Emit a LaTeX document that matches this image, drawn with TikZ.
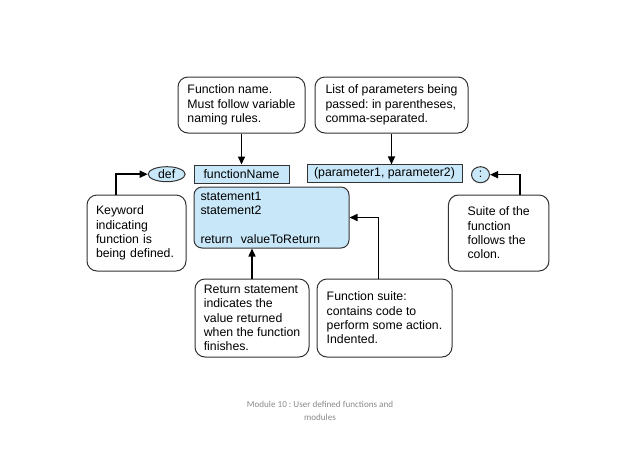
\documentclass[tikz,border=0pt]{standalone}
\usepackage{fontspec}
\setmainfont{Liberation Sans}
\newfontfamily\capfont{Carlito}
\usetikzlibrary{shapes.geometric,arrows.meta}
\frenchspacing
\definecolor{codeblue}{HTML}{C8E7F8}
\definecolor{edgegrey}{HTML}{333333}
\definecolor{capgrey}{HTML}{8A8A8A}
\tikzset{
  note/.style={draw=edgegrey, line width=1pt, rounded corners=10pt, fill=white,
    align=left, inner sep=0pt, font=\fontsize{12.3}{14.3}\selectfont},
  codebox/.style={draw=edgegrey, line width=1pt, fill=codeblue, inner sep=0pt,
    font=\fontsize{12.3}{14.3}\selectfont},
  codeoval/.style={codebox, ellipse},
  pointer/.style={line width=1.5pt, -{Triangle[length=8pt,width=7pt]}},
}
\begin{document}
\begin{tikzpicture}[x=1pt,y=-1pt]
\useasboundingbox (0,0) rectangle (638,451);
% top notes
\node[note, minimum width=127pt, minimum height=56pt] (fnnote) at (241.5,105) {Function name.\\Must follow variable\\naming rules.};
\node[note, minimum width=153pt, minimum height=56pt] (prmnote) at (391.5,105) {List of parameters being\\passed: in parentheses,\\comma-separated.};
% header line
\node[codeoval, minimum width=37pt, minimum height=15pt] (def) at (166.7,174.2) {def};
\node[codebox, minimum width=95pt, minimum height=18pt] (fn) at (241.5,174) {functionName};
\node[codebox, minimum width=155pt, minimum height=17.5pt] (prm) at (384.5,173.7) {(parameter1, parameter2)};
\node[codeoval, minimum width=18pt, minimum height=16pt] (colon) at (480.5,174.7) {:};
% body
\node[codebox, rounded corners=8pt, minimum width=155pt, minimum height=61pt, text width=142pt, align=left] (body) at (271.5,217.5) {statement1\\statement2\\[14.3pt]return\ \ valueToReturn};
% side notes
\node[note, minimum width=99pt, minimum height=76pt, text width=81pt] (kw) at (136.5,233) {Keyword\\indicating\\function is\\being defined.};
\node[note, minimum width=100.5pt, minimum height=76pt] (suite) at (498.7,233) {Suite of the\\function\\follows the\\colon.};
% bottom notes
\node[note, minimum width=114pt, minimum height=78pt] (ret) at (252,318) {Return statement\\indicates the\\value returned\\when the function\\finishes.};
\node[note, minimum width=135pt, minimum height=78pt] (fsuite) at (384.5,318) {Function suite:\\contains code to\\perform some action.\\Indented.};
% connectors
\draw[pointer] (fnnote.south) -- (fn.north);
\draw[pointer] (prmnote.south) -- (prmnote.south |- prm.north);
\draw[pointer] ([xshift=-20.5pt]kw.north) |- (def.west);
\draw[pointer] ([xshift=21.3pt]suite.north) |- (colon.east);
\draw[pointer] (ret.north) -- (ret.north |- body.south);
\draw[pointer] ([xshift=-6.2pt]fsuite.north) |- (body.east);
% caption
\node[font=\capfont\fontsize{9.1}{12.7}\selectfont, text=capgrey, align=center] (cap) at (320,411) {Module 10 : User defined functions and\\modules};
\end{tikzpicture}
\end{document}
